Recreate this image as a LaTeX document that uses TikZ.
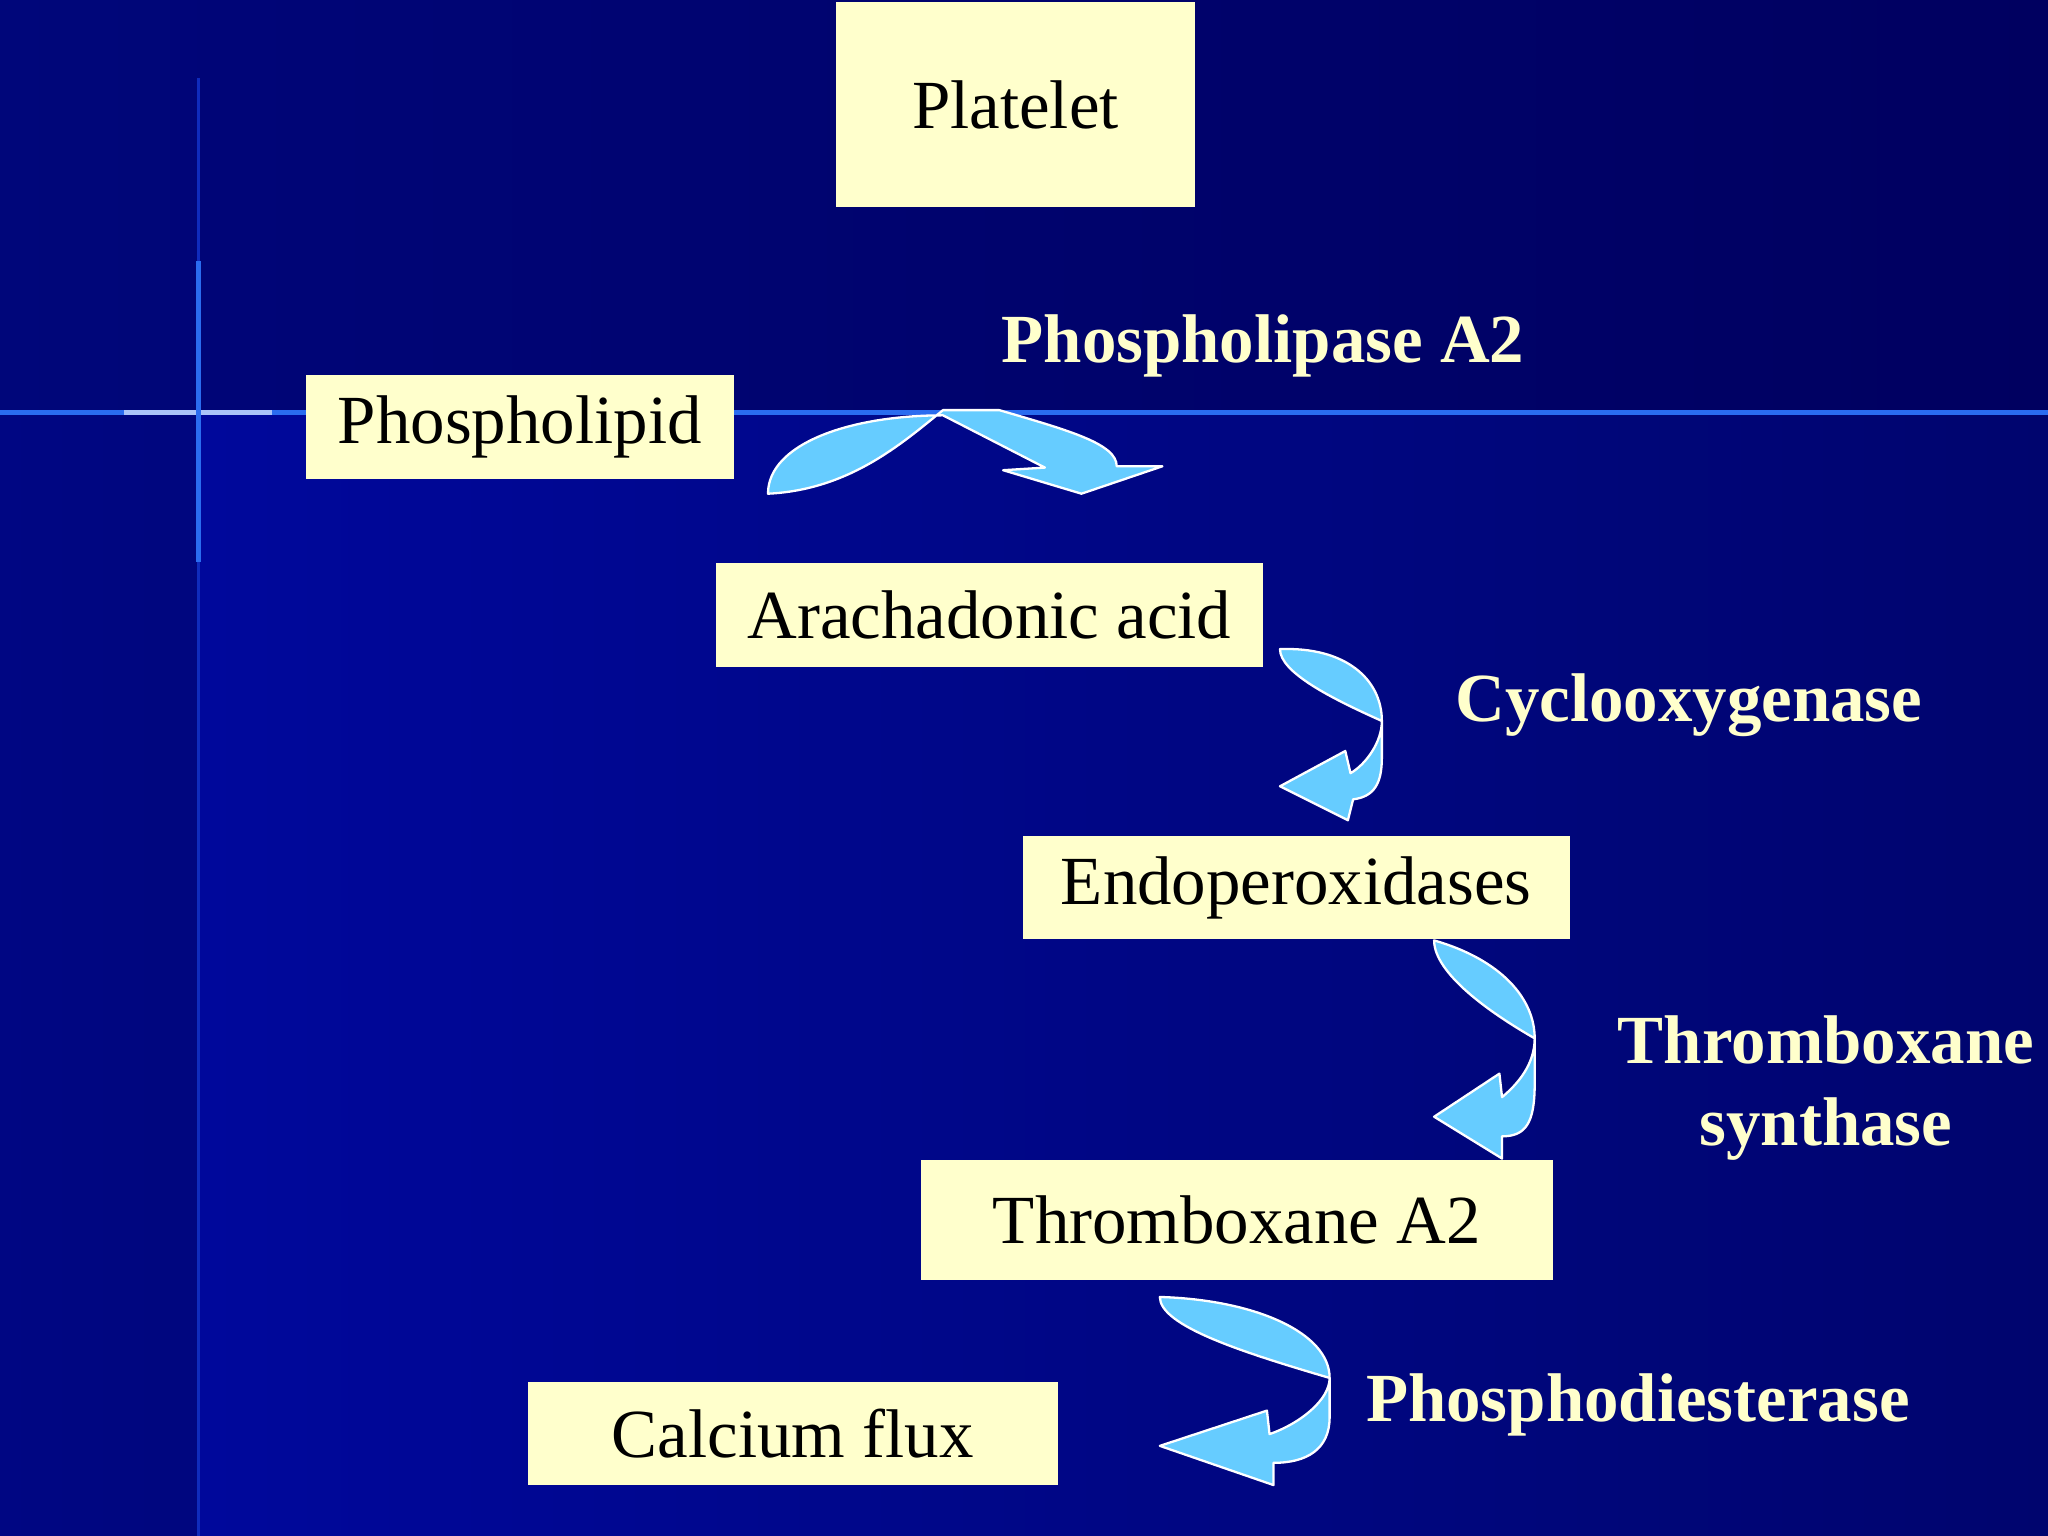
\documentclass[tikz,border=0pt]{standalone}
\usepackage{fontspec}
\setmainfont{Liberation Serif}
\definecolor{cream}{HTML}{FFFFCC}
\definecolor{arrowblue}{HTML}{66CCFF}
\definecolor{bgtop}{HTML}{000060}
\definecolor{bgtopL}{HTML}{00067A}
\definecolor{bgL}{HTML}{0008A0}
\definecolor{bgR}{HTML}{00056E}
\definecolor{lineblue}{HTML}{2A6CF0}
\tikzset{
  box/.style={fill=cream, draw=none, inner sep=0pt, font=\fontsize{15}{18}\selectfont, text=black},
  enz/.style={text=cream, font=\fontsize{15}{18}\selectfont\bfseries, align=center},
  arr/.style={fill=arrowblue, draw=white, line width=0.5pt, line join=round}
}
\begin{document}
\begin{tikzpicture}[x=0.01cm,y=-0.01cm]
\useasboundingbox (0,0) rectangle (1568,1176);
\shade[left color=bgL, right color=bgR] (0,315) rectangle (1568,1176);
\shade[left color=bgtopL, right color=bgtop] (0,0) rectangle (1568,315);
\fill[black, opacity=0.18] (0,315) rectangle (152,1176);
\draw[lineblue, line width=1.2pt] (0,316) -- (1568,316);
\draw[lineblue!35!bgL, line width=0.8pt] (152,60) -- (152,1176);
\draw[white!60!lineblue, line width=1.2pt] (95,316) -- (208,316);
\draw[lineblue, line width=1.2pt] (152,200) -- (152,430);

\node[box, minimum width=275*0.01cm, minimum height=157*0.01cm] (plat) at (777.5,80) {Platelet};
\node[box, minimum width=328*0.01cm, minimum height=80*0.01cm] (phl) at (398,327) {Phospholipid};
\node[box, minimum width=419*0.01cm, minimum height=80*0.01cm] (ara) at (757.5,471) {Arachadonic acid};
\node[box, minimum width=419*0.01cm, minimum height=79*0.01cm] (endo) at (992.5,679.5) {Endoperoxidases};
\node[box, minimum width=484*0.01cm, minimum height=92*0.01cm] (thr) at (947,934) {Thromboxane A2};
\node[box, minimum width=406*0.01cm, minimum height=79*0.01cm] (cal) at (607,1097.5) {Calcium flux};

\node[enz] (e1) at (967,265) {Phospholipase A2};
\node[enz] (e2) at (1293,540) {Cyclooxygenase};
\node[enz] (e3) at (1398,833) {Thromboxane\\synthase};
\node[enz] (e4) at (1254,1076) {Phosphodiesterase};

% arrow 1
\draw[arr] (588,378) .. controls (650,375) and (690,340) .. (722,314)
  -- (765,314) .. controls (820,330) and (855,340) .. (855,357)
  -- (890,357) -- (828,378) -- (768,360) -- (800,358)
  -- (722,318) .. controls (650,318) and (588,340) .. (588,378) -- cycle;
% arrow 2
\draw[arr] (980,497) .. controls (1030,495) and (1058,520) .. (1058,552)
  -- (1058,580) .. controls (1058,600) and (1052,610) .. (1036,612)
  -- (1032,628) -- (980,602) -- (1030,575) -- (1034,592)
  .. controls (1046,585) and (1058,568) .. (1058,552)
  .. controls (1020,535) and (980,515) .. (980,497) -- cycle;
% arrow 3
\draw[arr] (1098,720) .. controls (1150,735) and (1175,765) .. (1175,795)
  -- (1175,830) .. controls (1175,860) and (1168,870) .. (1150,870)
  -- (1150,887) -- (1098,855) -- (1148,822) -- (1150,840)
  .. controls (1162,830) and (1175,815) .. (1175,795)
  .. controls (1140,775) and (1098,745) .. (1098,720) -- cycle;
% arrow 4
\draw[arr] (888,993) .. controls (960,995) and (1018,1020) .. (1018,1055)
  -- (1018,1085) .. controls (1018,1110) and (1000,1120) .. (975,1120)
  -- (975,1137) -- (888,1107) -- (970,1080) -- (972,1098)
  .. controls (995,1090) and (1018,1072) .. (1018,1055)
  .. controls (950,1035) and (888,1015) .. (888,993) -- cycle;
\end{tikzpicture}
\end{document}
